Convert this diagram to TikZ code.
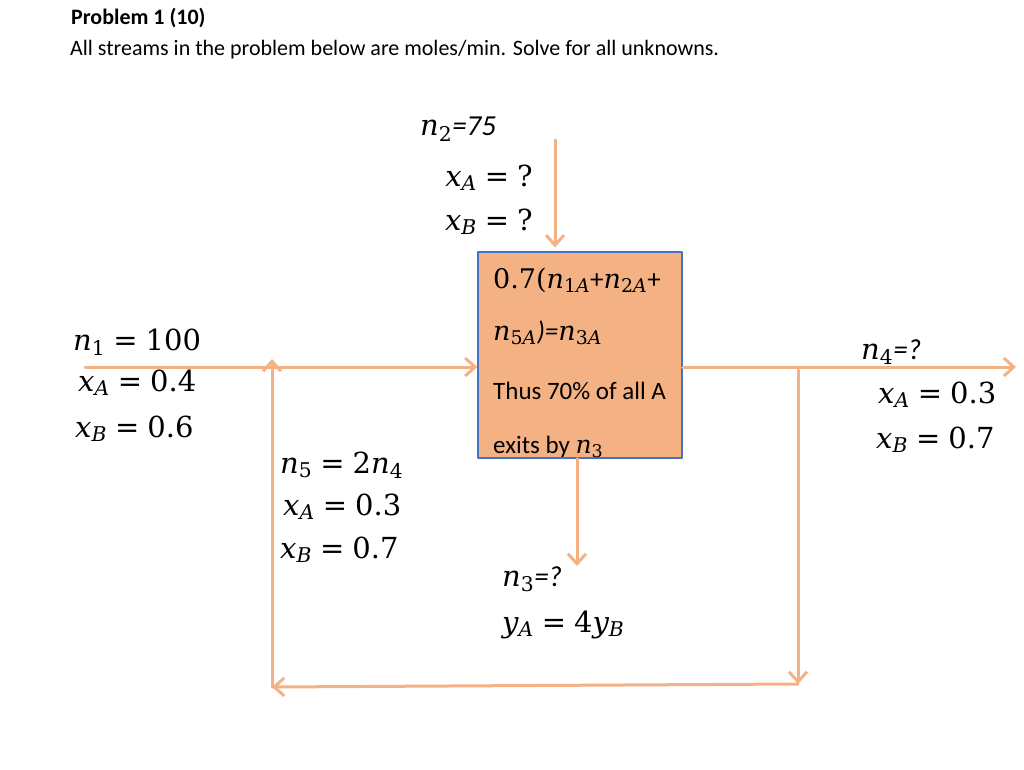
\RequirePackage{fix-cm}
\documentclass[tikz,border=0pt]{standalone}
\usepackage[no-math]{fontspec}
\setmainfont{Carlito}
\newfontfamily\mathserif[NFSSFamily=mser]{DejaVu Serif}
\DeclareSymbolFont{letters}{TU}{mser}{m}{it}
\DeclareSymbolFont{operators}{TU}{mser}{m}{n}
\AtBeginDocument{\mathcode`.="002E}
\usetikzlibrary{arrows.meta}
\definecolor{streamc}{RGB}{244,177,131}
\definecolor{boxfill}{RGB}{244,177,131}
\definecolor{boxline}{RGB}{68,114,196}
\begin{document}
\begin{tikzpicture}[x=1pt,y=-1pt,>={Straight Barb[length=10pt,width=18pt]}, line join = round, line cap = round,
  stream/.style={draw=streamc, line width=3pt},
  mixer/.style={draw=boxline, fill=boxfill, line width=1.2pt, minimum width=204pt, minimum height=206pt, inner sep=0pt},
  lbl/.style={inner sep=0pt, anchor=base west, font=\fontsize{29}{33}\selectfont},
  lblr/.style={lbl, anchor=base east},
  boxm/.style={inner sep=0pt, anchor=base west, font=\fontsize{27}{31}\selectfont},
  boxt/.style={inner sep=0pt, anchor=base west, font=\fontsize{25}{29}\selectfont},
  head/.style={inner sep=0pt, anchor=base west, font=\fontsize{22}{26}\selectfont}]
\useasboundingbox (0,0) rectangle (1024,770);
% heading
\node[head] (title) at (71,25) {\bfseries Problem 1 (10)};
\node[head] (task) at (70,55.5) {All streams in the problem below are moles/min. Solve for all unknowns.};
% mixing unit
\node[mixer] (mix) at (580,355) {};
\coordinate (feed) at (85,367);
\coordinate (jn) at (272,359);
\coordinate (rcl) at (272,687);
\coordinate (rcr) at (798,684);
\coordinate (sp) at (798,370);
\coordinate (out) at (1016,367);
\coordinate (n2in) at (555,140);
\coordinate (n3out) at (577,566);
% streams
\draw[stream,->] (feed) -- (mix.west |- feed);
\draw[stream,->] (mix.east |- feed) -- (out);
\draw[stream,->,shorten >=4pt] (n2in) -- (n2in |- mix.north);
\draw[stream,->] (n3out |- mix.south) -- (n3out);
\draw[stream,->] (sp) -- (rcr);
\draw[stream,->] (rcr) -- (rcl);
\draw[stream,->] (rcl) -- (jn);
% box text
\node[boxm] (eq1) at (493,288) {$0.7(n_{1A}$+$n_{2A}$+};
\node[boxm] (eq2) at (493,340) {$n_{5A}$\textit{)=}$n_{3A}$};
\node[boxt] (thus) at (493,399) {Thus 70\% of all A};
\node[boxt] (exits) at (493,453) {exits by $n_3$};
% stream 1
\node[lbl] (n1) at (73,350) {$n_1 = 100$};
\node[lbl] (xa1) at (78,391) {$x_A = 0.4$};
\node[lbl] (xb1) at (75,437) {$x_B = 0.6$};
% stream 2
\node[lbl] (n2) at (420,136) {$n_2$\textit{=75}};
\node[lblr] (xa2) at (533,186) {$x_A = {?}$};
\node[lblr] (xb2) at (533,230) {$x_B = {?}$};
% stream 3
\node[lbl] (n3) at (502,586) {$n_3$\textit{=?}};
\node[lbl] (ya3) at (502,632) {$y_A = 4y_B$};
% stream 4
\node[lbl] (n4) at (861,359) {$n_4$\textit{=?}};
\node[lbl] (xa4) at (878,403) {$x_A = 0.3$};
\node[lbl] (xb4) at (876,448) {$x_B = 0.7$};
% stream 5
\node[lbl] (n5) at (280,473) {$n_5 = 2n_4$};
\node[lbl] (xa5) at (283,515) {$x_A = 0.3$};
\node[lbl] (xb5) at (280,558) {$x_B = 0.7$};
\end{tikzpicture}
\end{document}
